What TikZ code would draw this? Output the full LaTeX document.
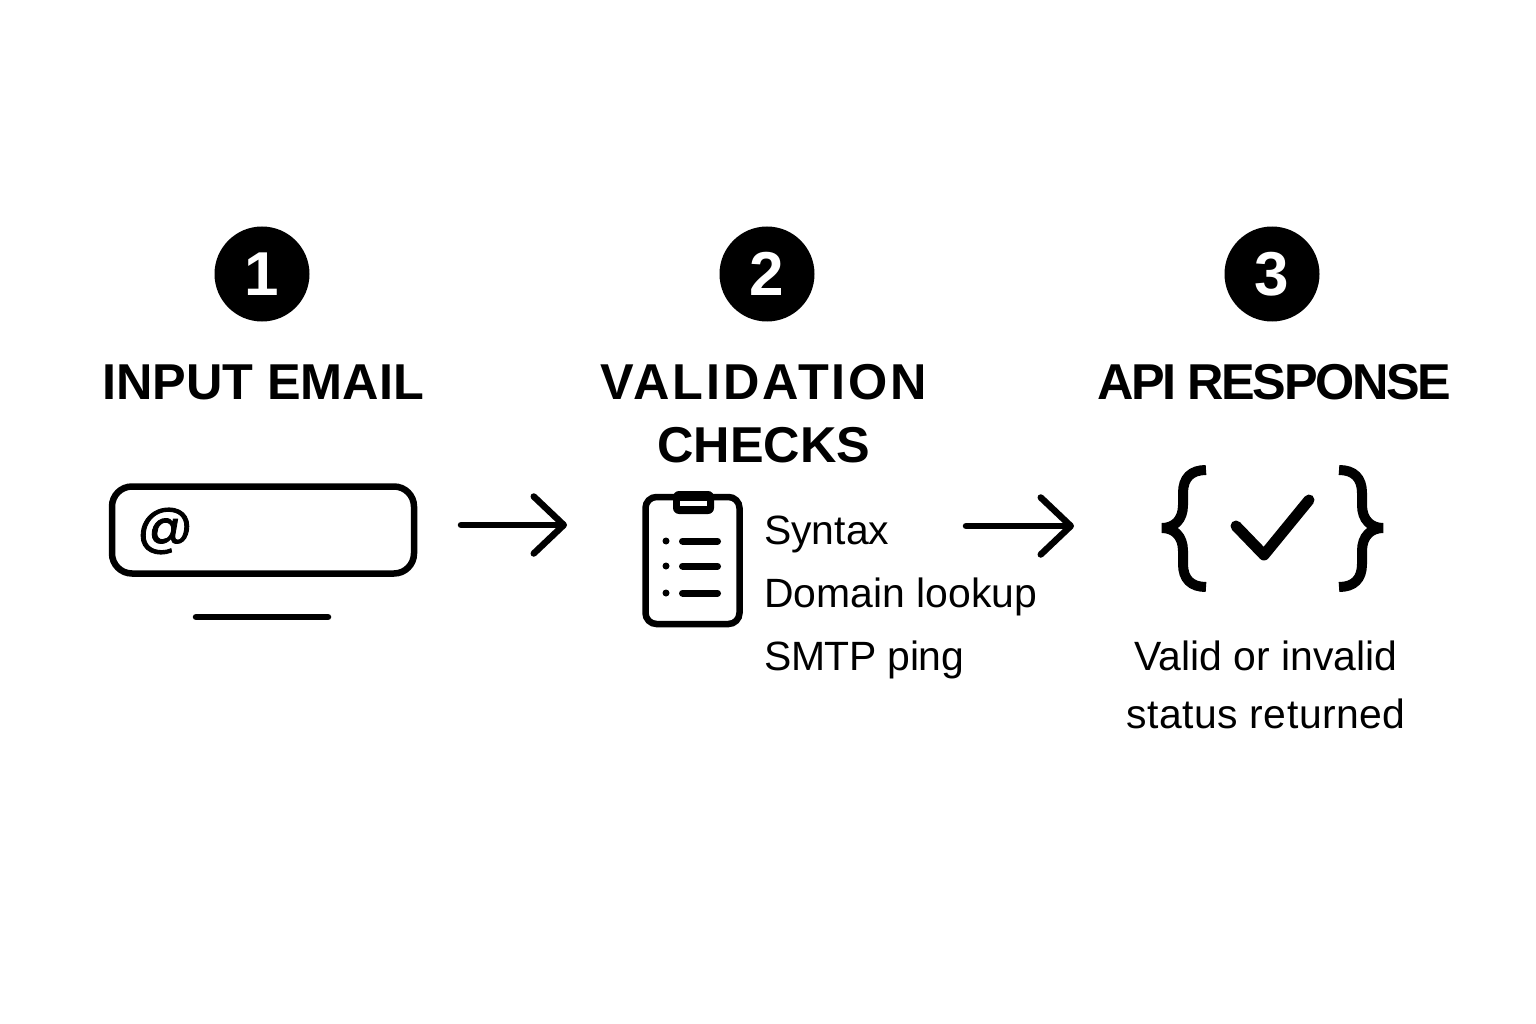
\documentclass[tikz,border=0pt]{standalone}
\usepackage{fontspec}
\setmainfont{Liberation Sans}
\newfontfamily\atfont{Poppins}[FakeBold=1.6]
\usetikzlibrary{arrows.meta}

\def\bodysize{\fontsize{40.9}{48}\selectfont}
\def\headsize{\fontsize{50.4}{60}\selectfont\bfseries}
\def\track#1{\addfontfeature{LetterSpace=#1}}

\tikzset{
  badge/.style={circle,fill=black,text=white,minimum size=95pt,inner sep=0pt,
    font=\fontsize{62}{70}\selectfont\bfseries},
  heading/.style={anchor=base,inner sep=0pt,font=\headsize},
  bodytext/.style={anchor=base,inner sep=0pt,font=\bodysize},
  iconline/.style={line width=6.5pt,line cap=round,line join=round},
  flowarrow/.style={line width=6.5pt,line cap=round,
    -{Straight Barb[length=30pt,width=57pt,round]}},
}

\begin{document}
\begin{tikzpicture}[x=1pt,y=-1pt]
    \useasboundingbox (0,0) rectangle (1536,1024);
    % Numbered badges
    \foreach \num/\xpos in {1/262,2/767,3/1272} {
        \node[badge] (badge\num) at (\xpos,274) {\num};
    }
    % Headings
    \node[heading] (headinput) at (263,399) {INPUT EMAIL};
    \node[heading] (headvalid) at (764,399) {\track{5.75}VALIDATION};
    \node[heading] (headcheck) at (764,462) {CHECKS};
    \node[heading] (headapi) at (1274,399) {\track{-4.8}API RESPONSE};

    % Input field
    \node[draw,line width=6.5pt,rounded corners=20pt,minimum width=302pt,
      minimum height=87pt,inner sep=0pt] (field) at (263,530) {};
    \node[inner sep=0pt,font=\atfont\fontsize{55}{60}\selectfont] (atsign) at (165,531) {@};
    \coordinate (underleft) at (196,617);
    \coordinate (underright) at (328,617);
    \draw[iconline] (underleft) -- (underright);

    % Clipboard
    \node[draw,line width=6.5pt,rounded corners=11pt,minimum width=94pt,
      minimum height=127pt,inner sep=0pt] (board) at (692.5,560.5) {};
    \node[fill=black,rounded corners=6pt,minimum width=41pt,minimum height=23pt,
      inner sep=0pt] (clip) at (693.5,502.5) {};
    \node[fill=white,minimum width=27pt,minimum height=5pt,inner sep=0pt]
      (clipslot) at (693.5,503.5) {};
    \foreach \row/\ypos in {1/541,2/566,3/593} {
        \node[circle,fill=black,minimum size=7pt,inner sep=0pt] (dot\row) at (666,\ypos) {};
        \coordinate (rowleft\row) at (682.5,\ypos);
        \coordinate (rowright\row) at (717.5,\ypos);
        \draw[line width=7pt,line cap=round] (rowleft\row) -- (rowright\row);
    }
    % Check list
    \node[bodytext,anchor=base west] (syntax) at (764,544) {Syntax};
    \node[bodytext,anchor=base west] (domain) at (764,607) {Domain lookup};
    \node[bodytext,anchor=base west] (smtp) at (764,670) {\track{-0.9}SMTP ping};

    % Arrows between the steps
    \coordinate (arrowonestart) at (461,525);
    \coordinate (arrowoneend) at (567,525);
    \coordinate (arrowtwostart) at (966,526);
    \coordinate (arrowtwoend) at (1074,526);
    \draw[flowarrow] (arrowonestart) -- (arrowoneend);
    \draw[flowarrow] (arrowtwostart) -- (arrowtwoend);

    % Braces and check mark
    \foreach \side/\xpos in {1/1206,-1/1339} {
        \draw[line width=10pt,xshift=\xpos pt,xscale=\side]
          (0,470) .. controls (-15,470) and (-23,478) .. (-23,493)
          -- (-23,505) .. controls (-23,520) and (-32,528) .. (-44,528)
          .. controls (-32,528) and (-23,536) .. (-23,551)
          -- (-23,564) .. controls (-23,579) and (-15,587) .. (0,587);
    }
    \coordinate (tickleft) at (1236,526);
    \coordinate (tickmid) at (1264,555);
    \coordinate (tickright) at (1309,500);
    \draw[line width=11pt,line cap=round,line join=round]
      (tickleft) -- (tickmid) -- (tickright);

    % Result text
    \node[bodytext] (resultone) at (1266,670) {Valid or invalid};
    \node[bodytext] (resulttwo) at (1266,728) {\track{1.2}status returned};
\end{tikzpicture}
\end{document}
